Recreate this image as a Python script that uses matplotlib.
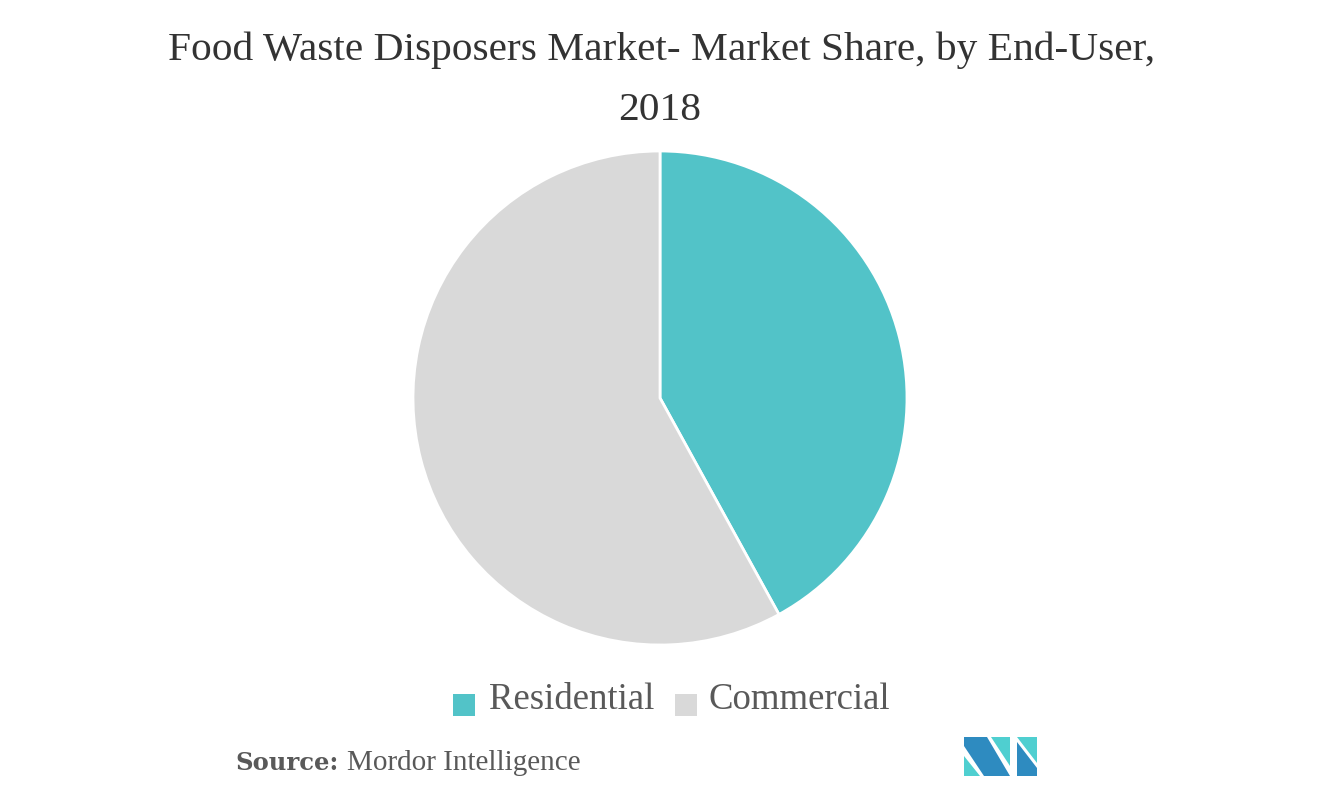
import matplotlib.pyplot as plt
from matplotlib.patches import Polygon, Rectangle

# data
labels = ['Residential', 'Commercial']
shares = [42, 58]
colors = ['#52C3C8', '#D9D9D9']

W, H = 1320, 801
fig = plt.figure(figsize=(W / 100, H / 100), dpi=100)
plt.rcParams['font.family'] = ['Liberation Serif', 'DejaVu Serif']

# pie axes, centre ~ (660, 398), radius ~ 247 px
cx, cy, r = 660, 398, 247
ax = fig.add_axes([(cx - r) / W, (H - cy - r) / H, 2 * r / W, 2 * r / H])
ax.pie(shares, colors=colors, startangle=90, counterclock=False, radius=1,
       wedgeprops=dict(edgecolor='white', linewidth=2))
ax.set_xlim(-1, 1)
ax.set_ylim(-1, 1)
ax.set_aspect('equal')
ax.axis('off')


def px(x, y):
    return x / W, 1 - y / H


# title
fig.text(*px(662, 50), 'Food Waste Disposers Market- Market Share, by End-User,',
         ha='center', va='center', fontsize=29.8, color='#333333')
fig.text(*px(660, 110), '2018', ha='center', va='center', fontsize=29.8, color='#333333')

# legend
sq = 22
for x0, xt, lab, col in [(453, 489, labels[0], colors[0]), (675, 709, labels[1], colors[1])]:
    fig.patches.append(Rectangle(px(x0, 716), sq / W, sq / H, transform=fig.transFigure,
                                 facecolor=col, edgecolor='none'))
    fig.text(*px(xt, 700), lab, ha='left', va='center', fontsize=26.5, color='#595959')

# source
fig.text(*px(235, 763), 'Source:', ha='left', va='center', fontsize=17.5,
         fontweight='bold', family=['DejaVu Serif'], color='#595959')
fig.text(*px(347, 763), 'Mordor Intelligence', ha='left', va='center', fontsize=21,
         color='#595959')

# logo
teal = '#4FCFD0'
dark = '#2E8BC0'
shapes = [
    ([(964, 756), (964, 776), (980, 776)], teal),
    ([(964, 737), (987, 737), (1010, 776), (984, 776), (964, 746)], dark),
    ([(991, 737), (1010, 737), (1010, 766)], teal),
    ([(1017, 737), (1037, 737), (1037, 763)], teal),
    ([(1017, 742), (1037, 768), (1037, 776), (1017, 776)], dark),
]
for pts, col in shapes:
    fig.patches.append(Polygon([px(x, y) for x, y in pts], closed=True,
                               transform=fig.transFigure, facecolor=col, edgecolor='none'))

fig.savefig('out.png', dpi=100, facecolor='white')
